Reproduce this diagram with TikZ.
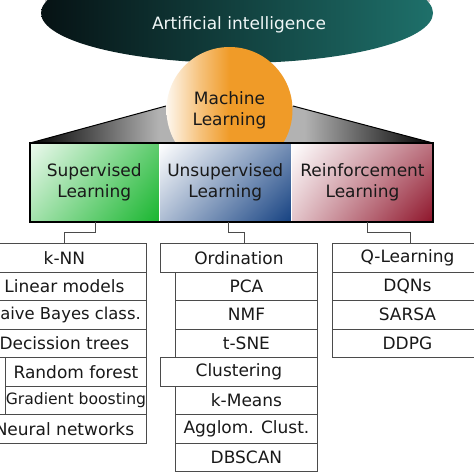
\documentclass[tikz,border=0pt]{standalone}
\usepackage{fontspec}
\setmainfont{DejaVu Sans}
\usetikzlibrary{shadings}
\definecolor{aidark}{RGB}{6,18,20}
\definecolor{aiteal}{RGB}{30,112,106}
\definecolor{mlorange}{RGB}{240,155,40}
\definecolor{gr}{RGB}{26,182,48}
\definecolor{bl}{RGB}{22,66,130}
\definecolor{rd}{RGB}{142,20,42}
\definecolor{lgray}{RGB}{75,75,75}
\definecolor{txt}{RGB}{25,25,25}
\pgfdeclarehorizontalshading{mlshade}{100bp}{color(0bp)=(white); color(25bp)=(mlorange!8!white); color(38bp)=(mlorange!60!white); color(50bp)=(mlorange); color(100bp)=(mlorange)}
\pgfdeclarehorizontalshading{trapshade}{100bp}{color(0bp)=(black); color(25bp)=(black); color(32bp)=(black!70); color(41bp)=(black!30); color(59bp)=(black!30); color(68bp)=(black!70); color(75bp)=(black); color(100bp)=(black)}
\newcommand\bigf{\fontsize{17}{20.5}\selectfont}
\begin{document}
\begin{tikzpicture}[x=1pt,y=-1pt,
  every node/.style={font=\bigf, text=txt},
  catbox/.style={minimum width=128, minimum height=78, inner sep=0pt, align=center},
  item/.style={draw=lgray, line width=0.9pt, minimum height=28.5, inner sep=0pt, anchor=north west},
  wide/.style={item, minimum width=164},
  sub/.style={item, minimum width=141},
  mwide/.style={item, minimum width=157},
  msub/.style={item, minimum width=142},
  rbox/.style={item, minimum width=150},
  conn/.style={draw=lgray, line width=1.2pt}]
\useasboundingbox (0,0) rectangle (474,474);
\clip (0,0) rectangle (474,474);
\fill[white] (0,0) rectangle (474,474);
% top line
\fill[gray!45] (45,0) rectangle (430,2);
% AI ellipse
\shade[left color=aidark, right color=aiteal] (237,13) ellipse [x radius=196, y radius=50];
\node[text=white!94!teal] (ai) at (239,25) {Artificial intelligence};
% trapezoid
\shade[shading=trapshade] (30,143) -- (166,106) -- (293,106) -- (433,143) -- cycle;
\draw[line width=1pt] (30,143) -- (166,106);
\draw[line width=1pt] (433,143) -- (293,106);
% ML circle
\shade[shading=mlshade] (229.5,110) circle (63);
\node[align=center] (ml) at (229.5,110.5) {Machine\\Learning};
% category boxes
\node[catbox, minimum width=128.5, upper left=gr!8!white, lower left=gr!40!white, upper right=gr!70!white, lower right=gr] (sup) at (94.25,182.5) {Supervised\\Learning};
\node[catbox, minimum width=130.5, upper left=white, lower left=bl!35!white, upper right=bl!60!white, lower right=bl] (uns) at (225.25,182.5) {Unsupervised\\Learning};
\node[catbox, minimum width=141, upper left=white, lower left=rd!25!white, upper right=rd!60!white, lower right=rd] (rei) at (362.5,182.5) {Reinforcement\\Learning};
\draw[line width=1.4pt] (30,143) rectangle (433,222);
% supervised list
\node[wide] (knn) at (-18,243) {k-NN};
\node[wide] (lin) at (-18,271.5) {Linear models};
\node[wide] (nb) at (-18,300) {\fontsize{16.4}{20}\selectfont Naive Bayes class.};
\node[wide] (dt) at (-18,328.5) {Decission trees};
\node[sub] (rf) at (5,357) {Random forest};
\node[sub] (gb) at (5,385.5) {\fontsize{15.6}{20}\selectfont Gradient boosting};
\node[wide] (nn) at (-18,414) {Neural networks};
% unsupervised list
\node[mwide] (ord) at (160,243) {Ordination};
\node[msub] (pca) at (175,271.5) {PCA};
\node[msub] (nmf) at (175,300) {NMF};
\node[msub] (tsne) at (175,328.5) {t-SNE};
\node[mwide] (clu) at (160,357) {Clustering};
\node[msub] (km) at (175,385.5) {k-Means};
\node[msub] (agg) at (175,414) {Agglom. Clust.};
\node[msub] (dbs) at (175,442.5) {DBSCAN};
% reinforcement list
\node[rbox] (ql) at (332,243) {Q-Learning};
\node[rbox] (dqn) at (332,271.5) {DQNs};
\node[rbox] (sarsa) at (332,300) {SARSA};
\node[rbox] (ddpg) at (332,328.5) {DDPG};
% connectors
\draw[conn] ([xshift=1.5]sup.south) -- ++(0,11) -| (knn.north);
\draw[conn] ([xshift=3]uns.south) -- ++(0,11) -| ([xshift=5.5]ord.north);
\draw[conn] ([xshift=5]rei.south) -- ++(0,11) -| ([xshift=3]ql.north);
\end{tikzpicture}
\end{document}
